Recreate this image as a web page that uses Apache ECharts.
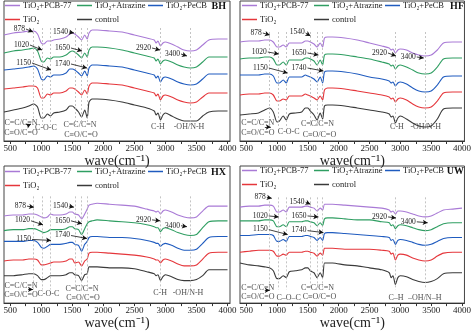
<!DOCTYPE html>
<html>
<head>
<meta charset="utf-8">
<script src="https://cdn.jsdelivr.net/npm/echarts@6/dist/echarts.min.js"></script>
<style>
  html, body { margin: 0; padding: 0; background: #fff; }
  #chart { width: 474px; height: 331px; }
</style>
</head>
<body>
<div id="chart"></div>
<script>
// Wavenumber sampling points (cm-1) shared by every spectrum
const waves = [400, 550, 700, 800, 878, 940, 1000, 1040, 1100, 1150, 1200, 1300, 1400, 1460, 1500, 1540, 1600, 1650, 1700, 1740, 1770, 1820, 1900, 2100, 2300, 2500, 2700, 2820, 2850, 2880, 2920, 2960, 3000, 3100, 3200, 3300, 3400, 3500, 3600, 3700, 3850, 4000];

const seriesNames = ['TiO₂+PCB-77', 'TiO₂+Atrazine', 'TiO₂+PeCB', 'TiO₂', 'control'];
const panelTags = ['BH', 'HF', 'HX', 'UW'];
const xLabels = [500, 1000, 1500, 2000, 2500, 3000, 3500, 4000];
const xTicks = [500, 750, 1000, 1250, 1500, 1750, 2000, 2250, 2500, 2750, 3000, 3250, 3500, 3750, 4000];
const peakWaves = [878, 1020, 1150, 1540, 1650, 1740, 2920, 3400];

// Stacked transmittance traces (arbitrary units, offset for display)
const bhPcb77    = [106,108,109,110,110,107,98,97,100,100,101,102,104,107,108,107,104,101,106,102,108,111,111,110,109,106,103,101,98,100,95,98,99,97,94,91,90,91,96,101,102,102];
const bhAtrazine = [88,90,91,92,93,90,80,79,83,82,84,84,86,89,90,89,86,83,88,84,91,94,94,93,91,88,85,83,80,82,77,80,81,79,76,74,73,74,79,84,84,84];
const bhPecb     = [71,72,73,74,75,72,62,61,65,64,66,66,68,72,72,71,68,65,70,65,73,76,76,75,74,71,68,66,63,65,59,63,64,62,59,57,56,57,62,67,67,67];
const bhTio2     = [52,53,54,55,55,53,43,43,47,46,48,48,50,53,53,52,49,46,51,47,55,58,58,57,56,53,50,48,45,47,41,45,46,44,41,39,38,39,44,48,48,48];
const bhControl  = [29,31,33,35,37,34,23,23,27,25,28,29,31,35,35,33,29,24,31,23,39,42,42,41,39,36,33,30,26,28,21,26,28,25,22,20,20,20,25,29,30,30];

const hfPcb77    = [99,100,100,101,101,99,94,94,96,94,98,98,98,100,100,99,97,94,98,94,103,104,104,103,101,98,95,93,91,92,88,91,92,91,88,86,85,86,91,98,99,99];
const hfAtrazine = [82,83,83,84,84,82,76,76,79,76,81,81,81,83,83,82,80,76,81,76,86,87,87,86,84,82,79,77,75,76,72,75,76,74,71,68,67,68,74,82,83,83];
const hfPecb     = [66,66,66,67,67,65,58,58,61,58,64,64,64,66,65,64,62,59,64,58,69,70,70,69,67,64,62,60,58,59,55,58,59,57,53,50,49,50,56,64,65,65];
const hfTio2     = [46,47,47,48,48,46,40,40,42,41,45,45,45,47,46,45,43,41,45,41,51,53,53,52,50,48,46,44,42,43,39,42,43,41,37,34,33,34,40,48,49,49];
const hfControl  = [26,27,28,31,33,29,19,20,25,21,27,28,29,33,33,30,26,21,28,22,35,36,36,35,33,31,29,27,24,25,18,23,25,22,18,15,14,15,22,32,33,33];

const hxPcb77    = [89,90,90,91,91,90,88,87,88,91,90,90,91,93,93,91,90,86,91,96,100,101,102,101,100,99,96,94,93,94,91,94,95,93,90,88,87,88,94,99,99,99];
const hxAtrazine = [74,75,75,76,76,75,73,72,73,75,75,75,76,78,78,76,75,70,76,81,83,84,85,84,83,82,80,78,77,77,73,76,77,75,72,70,69,70,77,83,84,84];
const hxPecb     = [63,63,63,64,64,62,57,56,58,60,60,60,61,62,62,60,59,53,60,63,67,68,68,67,67,66,64,62,61,61,58,60,61,59,56,54,54,55,61,67,68,68];
const hxTio2     = [43,44,44,45,45,44,39,39,40,41,42,42,43,45,45,41,42,38,43,45,51,52,52,51,50,49,47,45,44,44,41,44,45,43,40,38,38,39,45,51,52,52];
const hxControl  = [28,28,29,30,30,28,24,24,26,28,28,28,29,31,31,29,28,23,29,30,37,37,37,36,36,35,32,30,28,29,23,27,29,27,24,23,23,24,28,34,34,34];

const uwPcb77    = [98,99,99,100,100,99,93,93,95,93,98,98,98,99,99,98,97,94,97,95,101,101,101,100,99,98,97,95,93,94,91,94,94,93,91,89,88,89,92,95,96,97];
const uwAtrazine = [84,84,84,85,85,84,78,78,80,78,83,83,83,84,84,83,82,79,82,79,86,87,87,86,85,85,83,82,79,80,76,79,80,79,77,75,74,75,78,81,82,82];
const uwPecb     = [69,69,70,70,70,69,63,63,65,63,68,68,68,69,69,68,67,64,67,64,71,72,72,71,70,69,68,67,64,65,60,64,65,64,62,60,59,60,63,66,67,67];
const uwTio2     = [52,53,54,54,54,53,48,48,50,49,52,52,52,53,53,52,51,48,51,49,56,56,56,55,55,55,54,53,50,51,44,49,50,49,46,44,43,44,48,51,52,52];
const uwControl  = [41,39,38,37,36,33,25,25,28,26,32,33,34,36,36,33,31,26,31,26,41,41,41,39,38,36,34,31,26,28,19,26,28,27,24,22,21,22,25,30,31,31];

// Peak call-outs: [label, fromWave, fromValue, toWave, toValue]
const bhArrows = [['878',754,112,867,109],['1020',819,96,1012,91],['1150',851,78,1157,71],['1540',1447,109,1527,108],['1650',1479,93,1656,90],['1740',1479,77,1737,73],['2920',2784,93,2913,91],['3400',3251,87,3347,85],['',770,15,835,17]];
const hfArrows = [['878',770,108,883,106],['1020',851,89,1028,87],['1150',867,73,1173,68],['1540',1463,108,1543,105],['1650',1495,88,1672,86],['1740',1495,73,1753,70],['2920',2800,88,2929,85],['3400',3267,84,3380,83],['',803,14,899,14]];
const hxArrows = [['878',770,99,883,98],['1020',835,84,1028,80],['1150',851,65,1157,64],['1540',1447,99,1527,98],['1650',1479,84,1656,81],['1740',1479,69,1737,66],['2920',2784,85,2913,84],['3400',3251,79,3347,78],['',787,14,867,14]];
const uwArrows = [['878',835,108,915,107],['1020',867,89,1028,88],['1150',867,75,1173,70],['1540',1463,103,1543,101],['1650',1495,89,1672,88],['1740',1495,74,1753,72],['2920',2800,88,2929,87],['3400',3267,83,3444,82],['',803,13,883,13]];

// Band assignments: [text, wave, value]
const bhBands = [['C=C/C=N',674,18],['C≡O/C=O',674,8],['C-O-C',1076,13],['C=C/C=N',1624,16],['C≡O/C=O',1640,6],['C-H',2880,14],['-OH/N-H',3380,14]];
const hfBands = [['C=C/C=N',690,18],['C≡O/C=O',690,8],['C-O-C',1190,9],['C=C/C=N',1656,17],['C≡O/C=O',1688,6],['C-H',2945,14],['-OH/N-H',3412,14]];
const hxBands = [['C=C/C=N',674,18],['C≡O/C=O',674,8],['C-O-C',1115,9],['C=C/C=N',1656,14],['C≡O/C=O',1672,5],['C-H',2913,10],['-OH/N-H',3364,10]];
const uwBands = [['C=C/C=N',690,16],['C≡O/C=O',690,6],['C–O–C',1190,5],['C=C/C=N',1656,16],['C≡O/C=O',1688,6],['C–H',2929,5],['–OH/N–H',3396,5]];

// Extent of the dotted guide lines [top, bottom]
const bhGuide = [113, 16];
const hfGuide = [109, 14];
const hxGuide = [109, 14];
const uwGuide = [108, 14];

const colors = ['#a97ad6', '#2f9e62', '#1f5bbf', '#e5363b', '#3a3a3a'];
const serif = "'Liberation Serif', 'Times New Roman', serif";

const panels = [
  { tag: panelTags[0], curves: [bhPcb77, bhAtrazine, bhPecb, bhTio2, bhControl], arrows: bhArrows, bands: bhBands, guide: bhGuide, x: 4,   y: 1,   lx: 0,   ly: 0 },
  { tag: panelTags[1], curves: [hfPcb77, hfAtrazine, hfPecb, hfTio2, hfControl], arrows: hfArrows, bands: hfBands, guide: hfGuide, x: 240, y: 1,   lx: 237, ly: 0 },
  { tag: panelTags[2], curves: [hxPcb77, hxAtrazine, hxPecb, hxTio2, hxControl], arrows: hxArrows, bands: hxBands, guide: hxGuide, x: 4,   y: 166, lx: 0,   ly: 166 },
  { tag: panelTags[3], curves: [uwPcb77, uwAtrazine, uwPecb, uwTio2, uwControl], arrows: uwArrows, bands: uwBands, guide: uwGuide, x: 240, y: 166, lx: 237, ly: 165 }
];

const grid = [], xAxis = [], yAxis = [], series = [], legend = [], title = [];
const legendSlots = [[5, 1], [77, 1], [148, 1], [5, 15], [77, 15]];

panels.forEach((p, i) => {
  grid.push({ left: p.x, top: p.y, width: 226, height: 140, show: true, borderColor: '#444', borderWidth: 1 });
  xAxis.push({
    type: 'value', gridIndex: i, min: 400, max: 4040,
    axisLine: { show: true, lineStyle: { color: '#333', width: 1 } },
    axisTick: { show: true, customValues: xTicks, length: 3, lineStyle: { color: '#333' } },
    axisLabel: { customValues: xLabels, formatter: v => String(v), fontSize: 9, fontFamily: serif, color: '#222', margin: 3 },
    splitLine: { show: false },
    name: 'wave(cm⁻¹)', nameLocation: 'middle', nameGap: 10,
    nameTextStyle: { fontSize: 14, fontFamily: serif, color: '#222', verticalAlign: 'top' }
  });
  yAxis.push({ type: 'value', gridIndex: i, min: 0, max: 140, show: false });

  p.curves.forEach((vals, k) => {
    series.push({
      type: 'line', name: seriesNames[k], xAxisIndex: i, yAxisIndex: i,
      data: waves.map((w, j) => [w, vals[j]]),
      symbol: 'none', smooth: 0.25, color: colors[k],
      lineStyle: { width: 1.1, color: colors[k] }, z: 3
    });
  });

  const guideLines = peakWaves.map(w => [
    { coord: [w, p.guide[0]], symbol: 'none', lineStyle: { type: [2, 2], color: '#b5b5b5', width: 0.8 }, label: { show: false } },
    { coord: [w, p.guide[1]], symbol: 'none' }
  ]);
  const callouts = p.arrows.map(a => [
    { coord: [a[1], a[2]], symbol: 'none', lineStyle: { type: 'solid', color: '#111', width: 0.8 },
      label: { show: a[0] !== '', formatter: a[0], position: 'start', distance: 1, fontSize: 7.5, fontFamily: serif, color: '#222' } },
    { coord: [a[3], a[4]], symbol: 'arrow', symbolSize: [4, 5] }
  ]);
  series.push({
    type: 'line', name: 'guides-' + p.tag, xAxisIndex: i, yAxisIndex: i, data: [], silent: true,
    markLine: { silent: true, animation: false, symbol: ['none', 'none'], data: guideLines.concat(callouts) }
  });
  series.push({
    type: 'scatter', name: 'bands-' + p.tag, xAxisIndex: i, yAxisIndex: i, silent: true,
    symbolSize: 1, itemStyle: { color: 'rgba(0,0,0,0)' },
    data: p.bands.map(b => ({ value: [b[1], b[2]], name: b[0] })),
    label: { show: true, position: 'inside', formatter: '{b}', fontSize: 8, fontFamily: serif, color: '#222' }
  });

  seriesNames.forEach((n, k) => {
    legend.push({
      data: [n], left: p.lx + legendSlots[k][0], top: p.ly + legendSlots[k][1], padding: 0,
      icon: 'rect', itemWidth: 15, itemHeight: 1.5, selectedMode: false,
      textStyle: { fontSize: 8.5, fontFamily: serif, color: '#222', padding: [0, 0, 0, -2] }
    });
  });

  title.push({
    text: p.tag, right: (p.x < 100 ? 248 : 10), top: p.ly + 1, padding: 0,
    textStyle: { fontSize: 10, fontWeight: 'bold', fontFamily: serif, color: '#111' }
  });
});

const chart = echarts.init(document.getElementById('chart'), null, { renderer: 'canvas' });
chart.setOption({ animation: false, backgroundColor: '#fff', grid, xAxis, yAxis, series, legend, title });
</script>
</body>
</html>
